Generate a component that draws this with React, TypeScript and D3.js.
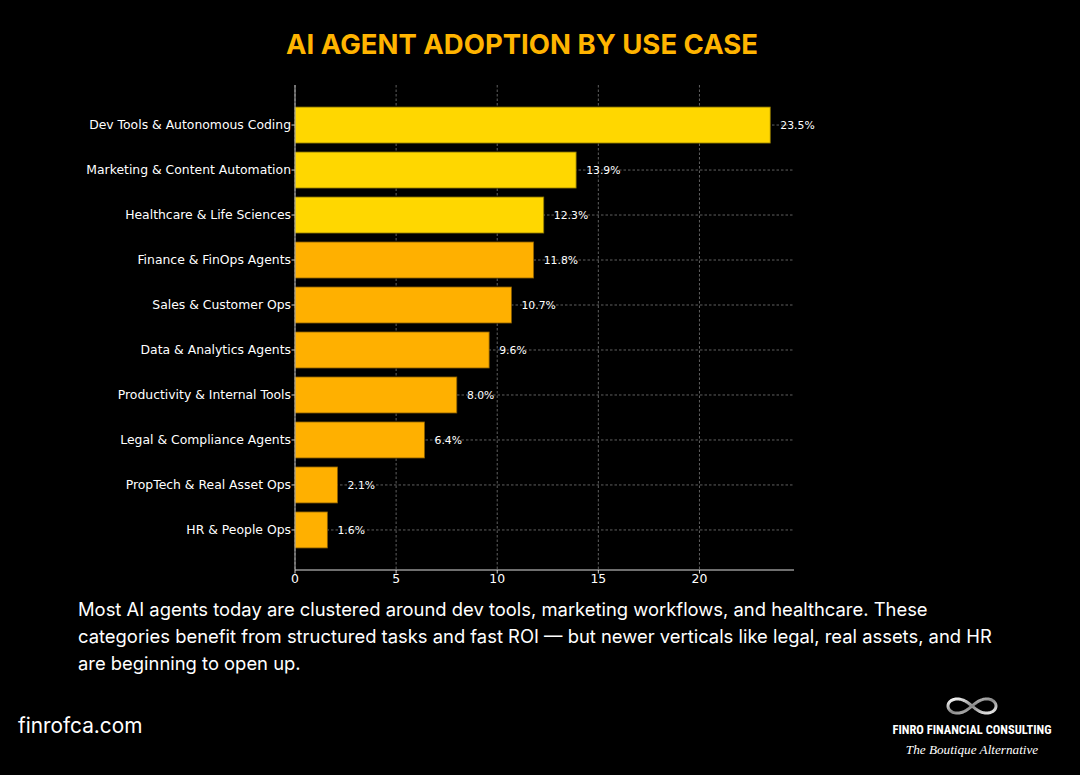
import React from 'react';
import * as d3 from 'd3';

const categories = [
  'Dev Tools & Autonomous Coding',
  'Marketing & Content Automation',
  'Healthcare & Life Sciences',
  'Finance & FinOps Agents',
  'Sales & Customer Ops',
  'Data & Analytics Agents',
  'Productivity & Internal Tools',
  'Legal & Compliance Agents',
  'PropTech & Real Asset Ops',
  'HR & People Ops',
];
const shares = [23.5, 13.9, 12.3, 11.8, 10.7, 9.6, 8.0, 6.4, 2.1, 1.6];
const xTicks = [0, 5, 10, 15, 20];
const captionLines = [
  'Most AI agents today are clustered around dev tools, marketing workflows, and healthcare. These',
  'categories benefit from structured tasks and fast ROI \u2014 but newer verticals like legal, real assets, and HR',
  'are beginning to open up.',
];

const W = 1080;
const H = 775;
const plot = { left: 295, right: 794, top: 85, bottom: 570 };
const TICK_FONT = '"DejaVu Sans", sans-serif';

// infinity mark for the logo
const infinityPath = (() => {
  const pts = d3.range(0, Math.PI * 2 + 0.01, 0.05).map((t) => {
    const d = 1 + Math.sin(t) ** 2;
    return [(Math.cos(t) / d) * 24, ((Math.sin(t) * Math.cos(t)) / d) * 20] as [number, number];
  });
  return d3.line().curve(d3.curveCatmullRomClosed)(pts) || '';
})();

export default function App() {
  const x = d3
    .scaleLinear()
    .domain([0, d3.max(shares)! * 1.05])
    .range([plot.left, plot.right]);
  const y = d3
    .scaleBand()
    .domain(categories)
    .range([plot.top, plot.bottom])
    .paddingInner(0.2)
    .paddingOuter(0.49);
  const mid = (c: string) => y(c)! + y.bandwidth() / 2;

  return (
    <svg
      width={W}
      height={H}
      style={{ position: 'absolute', left: 0, top: 0, background: '#000' }}
    >
      <rect width={W} height={H} fill="#000" />
      <text
        x={522}
        y={54}
        textAnchor="middle"
        fill="#FFB400"
        fontFamily="Inter, Roboto, sans-serif"
        fontWeight={700}
        fontSize={27.5}
      >
        AI AGENT ADOPTION BY USE CASE
      </text>

      {/* vertical grid */}
      {xTicks.map((t) => (
        <line
          key={'gx' + t}
          x1={x(t)}
          x2={x(t)}
          y1={plot.top}
          y2={plot.bottom}
          stroke="#8a8a8a"
          strokeWidth={0.7}
          strokeDasharray="2.5,2"
        />
      ))}
      {/* horizontal grid */}
      {categories.map((c) => (
        <line
          key={'gy' + c}
          x1={plot.left}
          x2={plot.right}
          y1={mid(c)}
          y2={mid(c)}
          stroke="#8a8a8a"
          strokeWidth={0.7}
          strokeDasharray="2.5,2"
        />
      ))}

      {categories.map((c, i) => (
        <g key={c}>
          <rect
            x={x(0)}
            y={y(c)}
            width={x(shares[i]) - x(0)}
            height={y.bandwidth()}
            fill={i < 3 ? '#FFD700' : '#FFB000'}
            stroke={i < 3 ? '#8c7600' : '#8c5f00'}
            strokeWidth={0.8}
          />
          <text
            x={x(shares[i] + 0.5)}
            y={mid(c)}
            dy="0.35em"
            fill="#fff"
            fontFamily={TICK_FONT}
            fontSize={10.8}
          >
            {shares[i].toFixed(1)}%
          </text>
          <line
            x1={plot.left - 3.5}
            x2={plot.left}
            y1={mid(c)}
            y2={mid(c)}
            stroke="#fff"
            strokeWidth={0.8}
          />
          <text
            x={plot.left - 4}
            y={mid(c)}
            dy="0.35em"
            textAnchor="end"
            fill="#fff"
            fontFamily={TICK_FONT}
            fontSize={12.4}
          >
            {c}
          </text>
        </g>
      ))}

      {/* spines */}
      <line x1={plot.left} x2={plot.left} y1={plot.top} y2={plot.bottom} stroke="#bbb" strokeWidth={1} />
      <line x1={plot.left} x2={plot.right} y1={plot.bottom} y2={plot.bottom} stroke="#ddd" strokeWidth={1} />

      {xTicks.map((t) => (
        <g key={'xt' + t}>
          <line x1={x(t)} x2={x(t)} y1={plot.bottom} y2={plot.bottom + 3.5} stroke="#fff" strokeWidth={0.8} />
          <text
            x={x(t)}
            y={plot.bottom + 13}
            textAnchor="middle"
            fill="#fff"
            fontFamily={TICK_FONT}
            fontSize={12.4}
          >
            {t}
          </text>
        </g>
      ))}

      <text fill="#fff" fontFamily="Inter, Roboto, sans-serif" fontSize={18.4}>
        {captionLines.map((l, i) => (
          <tspan key={i} x={78} y={616 + i * 27}>
            {l}
          </tspan>
        ))}
      </text>

      <text x={18} y={733} fill="#fff" fontFamily="Inter, Roboto, sans-serif" fontSize={20.8}>
        finrofca.com
      </text>

      {/* logo */}
      <defs>
        <linearGradient id="inf" x1="0" x2="1" y1="0" y2="1">
          <stop offset="0" stopColor="#fff" />
          <stop offset="0.5" stopColor="#888" />
          <stop offset="1" stopColor="#eee" />
        </linearGradient>
      </defs>
      <path
        d={infinityPath}
        transform="translate(972,706)"
        fill="none"
        stroke="url(#inf)"
        strokeWidth={3}
      />
      <text
        x={972}
        y={734}
        textAnchor="middle"
        fill="#fff"
        fontFamily='"Roboto Condensed", "Liberation Sans Narrow", "DejaVu Sans Condensed", sans-serif'
        fontWeight={700}
        fontSize={13}
        textLength={159}
        lengthAdjust="spacingAndGlyphs"
      >
        FINRO FINANCIAL CONSULTING
      </text>
      <text
        x={972}
        y={754}
        textAnchor="middle"
        fill="#fff"
        fontFamily='"Liberation Serif", "DejaVu Serif", serif'
        fontStyle="italic"
        fontSize={13.2}
      >
        The Boutique Alternative
      </text>
    </svg>
  );
}
